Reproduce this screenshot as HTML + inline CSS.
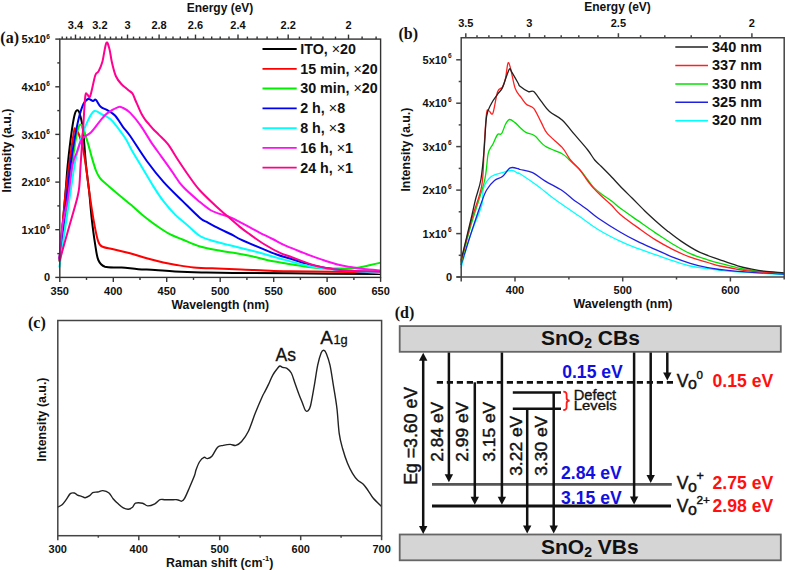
<!DOCTYPE html>
<html><head><meta charset="utf-8"><style>html,body{margin:0;padding:0;background:#fff;width:785px;height:570px;overflow:hidden;position:relative}</style></head><body>
<svg width="785" height="570" viewBox="0 0 785 570" style="position:absolute;left:0;top:0">
<rect width="785" height="570" fill="#ffffff"/>
<g fill="none" stroke-width="2" stroke-linejoin="round" stroke-linecap="round">
<path stroke="#000000" d="M59.5,260.0 C60.5,249.2 63.9,210.8 65.3,195.0 C66.7,179.2 66.6,175.8 67.7,165.0 C68.8,154.2 70.7,138.3 71.9,129.9 C73.1,121.5 73.8,117.8 74.7,114.5 C75.6,111.2 76.5,110.1 77.5,110.3 C78.5,110.5 79.5,112.4 80.4,115.9 C81.4,119.4 82.3,123.1 83.2,131.3 C84.1,139.5 85.0,155.2 86.0,165.0 C87.0,174.8 88.0,181.1 89.0,190.0 C90.0,198.9 90.7,209.4 91.7,218.3 C92.7,227.2 93.9,236.4 95.0,243.3 C96.1,250.2 96.6,256.1 98.3,260.0 C100.0,263.9 101.1,265.4 105.0,266.7 C108.9,267.9 116.2,267.1 121.7,267.5 C127.2,267.9 132.8,268.8 138.3,269.2 C143.9,269.6 148.9,269.6 155.0,270.0 C161.1,270.4 167.2,271.1 175.0,271.5 C182.8,271.9 191.9,272.2 201.6,272.4 C211.3,272.6 218.5,272.8 233.2,272.9 C247.9,273.0 265.6,273.1 290.0,273.3 C314.4,273.5 364.8,274.0 379.7,274.1"/>
<path stroke="#ff0000" d="M59.5,259.0 C60.5,248.3 63.7,210.7 65.3,195.0 C66.9,179.3 67.6,175.6 69.1,165.0 C70.5,154.4 73.0,137.2 74.0,131.3 C75.0,125.5 74.7,129.7 75.4,129.9 C76.1,130.1 77.2,130.8 78.2,132.7 C79.2,134.6 80.2,138.1 81.1,141.1 C82.0,144.1 82.5,145.5 83.4,150.5 C84.3,155.5 85.7,164.4 86.6,171.0 C87.5,177.6 87.9,182.1 89.0,190.0 C90.1,197.9 91.8,209.7 93.3,218.3 C94.8,226.9 96.6,236.9 98.3,241.7 C100.0,246.5 100.8,245.8 103.3,247.0 C105.8,248.2 108.8,248.1 113.3,249.2 C117.8,250.2 124.4,251.8 130.0,253.3 C135.6,254.8 141.1,256.8 146.7,258.3 C152.2,259.8 158.6,261.4 163.3,262.5 C168.0,263.6 169.9,263.9 175.0,264.7 C180.1,265.5 186.6,266.8 193.7,267.4 C200.8,268.0 209.5,268.2 217.4,268.5 C225.3,268.8 233.1,269.1 241.0,269.4 C248.9,269.7 256.5,270.2 264.7,270.5 C272.9,270.8 270.8,271.0 290.0,271.3 C309.2,271.6 364.8,272.2 379.7,272.4"/>
<path stroke="#00f000" d="M59.5,261.0 C60.6,253.3 63.9,231.0 66.0,215.0 C68.1,199.0 70.3,177.8 72.0,165.0 C73.7,152.2 74.7,144.7 76.0,138.0 C77.3,131.3 78.4,126.6 79.6,125.0 C80.8,123.4 81.8,125.3 83.2,128.5 C84.6,131.7 86.6,138.9 88.1,143.9 C89.6,148.9 90.8,153.9 92.1,158.4 C93.4,162.9 94.8,167.7 96.1,171.0 C97.4,174.3 98.5,176.0 100.0,178.1 C101.5,180.2 103.5,181.7 105.3,183.3 C107.0,184.9 108.2,185.7 110.5,187.7 C112.8,189.7 115.8,192.3 119.3,195.2 C122.8,198.1 127.8,202.1 131.6,205.3 C135.4,208.6 138.0,211.3 142.1,214.7 C146.2,218.0 151.7,222.3 156.1,225.4 C160.5,228.5 164.0,231.0 168.4,233.3 C172.8,235.7 177.2,237.3 182.5,239.5 C187.8,241.7 193.7,244.6 200.0,246.5 C206.3,248.4 214.4,249.7 220.5,250.8 C226.6,251.9 231.0,252.3 236.3,253.2 C241.6,254.1 246.8,255.1 252.1,256.3 C257.4,257.5 262.4,259.2 267.9,260.3 C273.4,261.4 278.9,262.2 285.0,263.2 C291.1,264.2 298.1,265.5 304.7,266.4 C311.3,267.3 317.9,268.1 324.5,268.4 C331.1,268.7 338.7,268.5 344.2,268.4 C349.7,268.3 353.0,268.4 357.4,267.8 C361.8,267.2 366.8,265.9 370.5,265.1 C374.2,264.3 378.2,263.3 379.7,262.9"/>
<path stroke="#0000f0" d="M59.5,258.0 C60.9,246.7 65.8,205.5 67.6,190.0 C69.4,174.5 69.0,175.5 70.5,165.0 C72.0,154.5 74.8,136.9 76.8,127.1 C78.8,117.3 80.6,110.8 82.5,106.1 C84.4,101.4 86.3,99.8 88.1,99.0 C89.8,98.2 91.7,101.0 93.0,101.1 C94.3,101.2 94.5,98.8 95.8,99.7 C97.1,100.7 98.7,105.0 100.7,106.8 C102.7,108.6 105.3,108.8 107.7,110.3 C110.1,111.8 112.5,112.8 115.0,115.5 C117.5,118.2 120.4,123.4 122.9,126.8 C125.4,130.2 126.0,130.1 130.0,135.8 C134.0,141.5 141.2,153.3 146.8,161.0 C152.4,168.7 157.7,175.4 163.7,182.1 C169.7,188.8 176.5,195.1 182.6,201.1 C188.7,207.1 195.8,214.3 200.0,217.9 C204.2,221.5 204.6,220.8 207.9,222.6 C211.2,224.4 215.8,226.9 219.7,228.9 C223.6,230.9 228.0,232.7 231.6,234.5 C235.2,236.3 236.0,237.3 241.0,239.6 C246.0,241.9 255.5,245.9 261.6,248.4 C267.7,250.9 272.7,253.0 277.4,254.7 C282.1,256.4 285.4,257.1 290.0,258.5 C294.6,259.9 298.9,261.6 304.7,263.2 C310.4,264.8 317.9,266.6 324.5,267.8 C331.1,269.0 335.0,269.7 344.2,270.4 C353.4,271.1 373.8,271.8 379.7,272.1"/>
<path stroke="#00ffff" d="M59.5,266.7 C61.4,253.9 68.1,207.8 70.8,190.0 C73.5,172.2 73.8,168.6 75.5,160.0 C77.2,151.4 79.0,145.0 81.1,138.3 C83.2,131.7 85.9,124.6 88.1,120.1 C90.3,115.5 92.1,111.9 94.4,111.0 C96.7,110.1 99.4,113.2 102.1,114.5 C104.8,115.8 107.6,116.7 110.3,119.0 C113.0,121.3 115.6,125.0 118.2,128.4 C120.8,131.8 123.9,135.9 126.1,139.5 C128.3,143.1 128.9,145.3 131.6,150.0 C134.3,154.7 138.6,161.7 142.1,167.5 C145.6,173.3 149.1,179.5 152.6,185.1 C156.1,190.7 159.4,195.9 163.2,200.9 C167.0,205.9 171.3,210.8 175.4,214.9 C179.5,219.0 183.6,221.9 187.7,225.4 C191.8,228.9 195.6,233.3 200.0,236.0 C204.4,238.7 209.2,239.8 214.2,241.3 C219.2,242.9 224.7,244.0 230.0,245.3 C235.3,246.6 240.5,247.9 245.8,249.2 C251.1,250.5 256.3,251.8 261.6,253.2 C266.9,254.6 273.5,256.8 277.4,257.9 C281.3,259.0 280.4,258.7 285.0,259.9 C289.6,261.1 298.1,263.7 304.7,265.1 C311.3,266.5 312.0,267.1 324.5,268.4 C337.0,269.7 370.5,272.2 379.7,273.0"/>
<path stroke="#ff10f0" d="M59.5,259.0 C60.0,253.3 61.2,234.8 62.6,225.0 C64.0,215.2 65.9,210.0 67.6,200.0 C69.2,190.0 70.9,173.0 72.5,165.0 C74.1,157.0 75.4,156.4 77.0,152.0 C78.6,147.6 79.9,141.9 82.2,138.7 C84.5,135.4 87.8,135.6 90.9,132.5 C94.0,129.4 97.9,123.5 100.6,120.3 C103.3,117.1 104.2,115.6 107.1,113.4 C110.0,111.2 115.6,108.0 118.2,107.1 C120.8,106.2 120.9,107.0 122.9,107.9 C124.9,108.8 127.1,109.7 130.0,112.6 C132.9,115.5 137.0,120.4 140.5,125.3 C144.0,130.2 147.6,136.8 151.1,142.1 C154.6,147.3 158.1,151.9 161.6,156.8 C165.1,161.7 168.6,166.7 172.1,171.6 C175.6,176.5 177.9,181.2 182.6,186.3 C187.2,191.4 195.4,198.2 200.0,202.1 C204.6,206.0 207.0,208.0 210.3,210.0 C213.6,212.0 216.8,212.8 219.7,213.9 C222.6,215.0 224.3,215.0 227.6,216.3 C230.9,217.6 235.6,219.8 239.5,221.8 C243.4,223.8 247.9,226.2 251.3,228.1 C254.7,229.9 256.4,231.1 260.0,232.9 C263.6,234.7 268.4,236.9 272.6,239.0 C276.8,241.1 280.7,243.5 285.0,245.4 C289.3,247.3 293.8,248.9 298.2,250.7 C302.6,252.4 306.9,254.3 311.3,255.9 C315.7,257.5 320.1,259.1 324.5,260.5 C328.9,261.9 333.2,263.4 337.6,264.5 C342.0,265.6 346.4,266.3 350.8,267.1 C355.2,267.9 359.2,268.6 364.0,269.1 C368.8,269.7 377.1,270.2 379.7,270.4"/>
<path stroke="#ff0090" d="M59.5,261.0 C61.0,255.7 65.5,239.7 68.5,229.0 C71.5,218.3 75.7,204.5 77.5,197.0 C79.3,189.5 79.0,189.3 79.5,184.0 C80.0,178.7 80.0,174.5 80.6,165.0 C81.2,155.5 82.4,138.6 83.2,127.1 C84.0,115.6 84.6,101.6 85.3,96.2 C86.0,90.8 86.6,94.5 87.4,94.5 C88.2,94.5 88.9,99.4 90.2,96.2 C91.5,93.0 93.9,79.4 95.3,75.3 C96.7,71.2 97.2,73.8 98.4,71.6 C99.6,69.3 101.1,66.6 102.4,61.8 C103.7,57.0 105.1,45.0 106.3,42.9 C107.5,40.8 108.6,46.1 109.5,49.2 C110.4,52.4 110.8,57.3 111.8,61.8 C112.8,66.3 114.2,72.3 115.8,76.0 C117.4,79.7 119.3,81.8 121.3,84.0 C123.3,86.2 125.8,87.9 127.6,89.5 C129.4,91.1 131.1,91.7 132.4,93.4 C133.7,95.2 134.4,97.8 135.3,100.0 C136.2,102.2 137.1,104.0 138.1,106.3 C139.1,108.6 140.4,111.8 141.6,114.0 C142.8,116.2 143.8,117.8 145.1,119.6 C146.4,121.4 147.9,122.9 149.3,124.6 C150.7,126.2 151.8,127.8 153.5,129.5 C155.2,131.2 156.8,132.7 159.2,135.1 C161.6,137.5 164.7,140.0 167.9,144.2 C171.1,148.4 174.9,155.2 178.4,160.5 C181.9,165.8 185.4,171.1 188.9,176.0 C192.4,180.9 195.0,185.0 199.5,190.0 C204.0,195.0 211.1,201.6 215.8,206.0 C220.5,210.4 223.7,212.9 227.6,216.3 C231.5,219.7 235.9,223.7 239.5,226.6 C243.1,229.5 244.8,230.8 249.0,233.8 C253.2,236.8 259.4,241.3 264.7,244.5 C269.9,247.7 276.3,251.2 280.5,253.2 C284.7,255.2 284.9,254.6 290.0,256.5 C295.1,258.4 305.6,262.6 311.3,264.5 C317.1,266.4 319.0,266.8 324.5,267.8 C330.0,268.8 335.0,269.8 344.2,270.4 C353.4,271.0 373.8,271.5 379.7,271.7"/>
</g>
<g stroke="#333" stroke-width="1.4" fill="none">
<rect x="59.8" y="39.1" width="320.8" height="238.29999999999998"/>
<line x1="59.8" y1="277.4" x2="59.8" y2="281.9"/>
<line x1="86.5" y1="277.4" x2="86.5" y2="279.9"/>
<line x1="113.3" y1="277.4" x2="113.3" y2="281.9"/>
<line x1="140.0" y1="277.4" x2="140.0" y2="279.9"/>
<line x1="166.7" y1="277.4" x2="166.7" y2="281.9"/>
<line x1="193.5" y1="277.4" x2="193.5" y2="279.9"/>
<line x1="220.2" y1="277.4" x2="220.2" y2="281.9"/>
<line x1="246.9" y1="277.4" x2="246.9" y2="279.9"/>
<line x1="273.7" y1="277.4" x2="273.7" y2="281.9"/>
<line x1="300.4" y1="277.4" x2="300.4" y2="279.9"/>
<line x1="327.1" y1="277.4" x2="327.1" y2="281.9"/>
<line x1="353.9" y1="277.4" x2="353.9" y2="279.9"/>
<line x1="380.6" y1="277.4" x2="380.6" y2="281.9"/>
<line x1="59.8" y1="277.4" x2="55.3" y2="277.4"/>
<line x1="59.8" y1="253.6" x2="57.3" y2="253.6"/>
<line x1="59.8" y1="229.7" x2="55.3" y2="229.7"/>
<line x1="59.8" y1="205.9" x2="57.3" y2="205.9"/>
<line x1="59.8" y1="182.1" x2="55.3" y2="182.1"/>
<line x1="59.8" y1="158.2" x2="57.3" y2="158.2"/>
<line x1="59.8" y1="134.4" x2="55.3" y2="134.4"/>
<line x1="59.8" y1="110.6" x2="57.3" y2="110.6"/>
<line x1="59.8" y1="86.8" x2="55.3" y2="86.8"/>
<line x1="59.8" y1="62.9" x2="57.3" y2="62.9"/>
<line x1="59.8" y1="39.1" x2="55.3" y2="39.1"/>
<line x1="62.2" y1="39.1" x2="62.2" y2="36.6"/>
<line x1="66.6" y1="39.1" x2="66.6" y2="36.6"/>
<line x1="71.0" y1="39.1" x2="71.0" y2="36.6"/>
<line x1="75.5" y1="39.1" x2="75.5" y2="34.6"/>
<line x1="80.2" y1="39.1" x2="80.2" y2="36.6"/>
<line x1="84.9" y1="39.1" x2="84.9" y2="36.6"/>
<line x1="89.8" y1="39.1" x2="89.8" y2="36.6"/>
<line x1="94.8" y1="39.1" x2="94.8" y2="36.6"/>
<line x1="99.9" y1="39.1" x2="99.9" y2="34.6"/>
<line x1="105.1" y1="39.1" x2="105.1" y2="36.6"/>
<line x1="110.5" y1="39.1" x2="110.5" y2="36.6"/>
<line x1="116.0" y1="39.1" x2="116.0" y2="36.6"/>
<line x1="121.7" y1="39.1" x2="121.7" y2="36.6"/>
<line x1="127.5" y1="39.1" x2="127.5" y2="34.6"/>
<line x1="133.5" y1="39.1" x2="133.5" y2="36.6"/>
<line x1="139.6" y1="39.1" x2="139.6" y2="36.6"/>
<line x1="145.9" y1="39.1" x2="145.9" y2="36.6"/>
<line x1="152.4" y1="39.1" x2="152.4" y2="36.6"/>
<line x1="159.1" y1="39.1" x2="159.1" y2="34.6"/>
<line x1="166.0" y1="39.1" x2="166.0" y2="36.6"/>
<line x1="173.0" y1="39.1" x2="173.0" y2="36.6"/>
<line x1="180.3" y1="39.1" x2="180.3" y2="36.6"/>
<line x1="187.8" y1="39.1" x2="187.8" y2="36.6"/>
<line x1="195.5" y1="39.1" x2="195.5" y2="34.6"/>
<line x1="203.5" y1="39.1" x2="203.5" y2="36.6"/>
<line x1="211.7" y1="39.1" x2="211.7" y2="36.6"/>
<line x1="220.2" y1="39.1" x2="220.2" y2="36.6"/>
<line x1="229.0" y1="39.1" x2="229.0" y2="36.6"/>
<line x1="238.0" y1="39.1" x2="238.0" y2="34.6"/>
<line x1="247.4" y1="39.1" x2="247.4" y2="36.6"/>
<line x1="257.1" y1="39.1" x2="257.1" y2="36.6"/>
<line x1="267.1" y1="39.1" x2="267.1" y2="36.6"/>
<line x1="277.5" y1="39.1" x2="277.5" y2="36.6"/>
<line x1="288.2" y1="39.1" x2="288.2" y2="34.6"/>
<line x1="299.4" y1="39.1" x2="299.4" y2="36.6"/>
<line x1="311.0" y1="39.1" x2="311.0" y2="36.6"/>
<line x1="323.0" y1="39.1" x2="323.0" y2="36.6"/>
<line x1="335.5" y1="39.1" x2="335.5" y2="36.6"/>
<line x1="348.5" y1="39.1" x2="348.5" y2="34.6"/>
<line x1="362.1" y1="39.1" x2="362.1" y2="36.6"/>
<line x1="376.1" y1="39.1" x2="376.1" y2="36.6"/>
</g>
<g font-family="Liberation Sans, sans-serif" font-weight="bold" font-size="11" fill="#111" text-anchor="middle">
<text x="59.8" y="294.5">350</text>
<text x="113.3" y="294.5">400</text>
<text x="166.7" y="294.5">450</text>
<text x="220.2" y="294.5">500</text>
<text x="273.7" y="294.5">550</text>
<text x="327.1" y="294.5">600</text>
<text x="380.6" y="294.5">650</text>
<text x="75.5" y="28.5">3.4</text>
<text x="99.9" y="28.5">3.2</text>
<text x="127.5" y="28.5">3</text>
<text x="159.1" y="28.5">2.8</text>
<text x="195.5" y="28.5">2.6</text>
<text x="238.0" y="28.5">2.4</text>
<text x="288.2" y="28.5">2.2</text>
<text x="348.5" y="28.5">2</text>
</g>
<g font-family="Liberation Sans, sans-serif" font-weight="bold" font-size="11" fill="#111" text-anchor="end">
<text x="50" y="281.4">0</text>
<text x="46" y="233.9">1x10</text><text x="46.2" y="229.1" font-size="6.5" text-anchor="start">6</text>
<text x="46" y="186.3">2x10</text><text x="46.2" y="181.5" font-size="6.5" text-anchor="start">6</text>
<text x="46" y="138.6">3x10</text><text x="46.2" y="133.8" font-size="6.5" text-anchor="start">6</text>
<text x="46" y="91.0">4x10</text><text x="46.2" y="86.2" font-size="6.5" text-anchor="start">6</text>
<text x="46" y="43.3">5x10</text><text x="46.2" y="38.5" font-size="6.5" text-anchor="start">6</text>
</g>
<text font-family="Liberation Sans, sans-serif" font-weight="bold" font-size="12" x="220" y="12.2" text-anchor="middle" fill="#111">Energy (eV)</text>
<text font-family="Liberation Sans, sans-serif" font-weight="bold" font-size="12.2" x="220.3" y="308.7" text-anchor="middle" fill="#111">Wavelength (nm)</text>
<text font-family="Liberation Sans, sans-serif" font-weight="bold" font-size="12.4" transform="translate(11.2,150.5) rotate(-90)" text-anchor="middle" fill="#111">Intensity (a.u.)</text>
<text font-family="Liberation Serif, serif" font-weight="bold" font-size="16" x="0.3" y="42.8" fill="#111">(a)</text>
<line x1="262.5" y1="49.0" x2="296.7" y2="49.0" stroke="#000000" stroke-width="1.8"/>
<text font-family="Liberation Sans, sans-serif" font-weight="bold" font-size="14.3" x="300.2" y="53.9" fill="#111">ITO, <tspan font-weight="normal">×</tspan>20</text>
<line x1="262.5" y1="68.8" x2="296.7" y2="68.8" stroke="#ff0000" stroke-width="1.8"/>
<text font-family="Liberation Sans, sans-serif" font-weight="bold" font-size="14.3" x="300.2" y="73.7" fill="#111">15 min, <tspan font-weight="normal">×</tspan>20</text>
<line x1="262.5" y1="88.5" x2="296.7" y2="88.5" stroke="#00f000" stroke-width="1.8"/>
<text font-family="Liberation Sans, sans-serif" font-weight="bold" font-size="14.3" x="300.2" y="93.4" fill="#111">30 min, <tspan font-weight="normal">×</tspan>20</text>
<line x1="262.5" y1="108.3" x2="296.7" y2="108.3" stroke="#0000f0" stroke-width="1.8"/>
<text font-family="Liberation Sans, sans-serif" font-weight="bold" font-size="14.3" x="300.2" y="113.2" fill="#111">2 h, <tspan font-weight="normal">×</tspan>8</text>
<line x1="262.5" y1="128.1" x2="296.7" y2="128.1" stroke="#00ffff" stroke-width="1.8"/>
<text font-family="Liberation Sans, sans-serif" font-weight="bold" font-size="14.3" x="300.2" y="133.0" fill="#111">8 h, <tspan font-weight="normal">×</tspan>3</text>
<line x1="262.5" y1="147.8" x2="296.7" y2="147.8" stroke="#ff10f0" stroke-width="1.8"/>
<text font-family="Liberation Sans, sans-serif" font-weight="bold" font-size="14.3" x="300.2" y="152.8" fill="#111">16 h, <tspan font-weight="normal">×</tspan>1</text>
<line x1="262.5" y1="167.6" x2="296.7" y2="167.6" stroke="#ff0090" stroke-width="1.8"/>
<text font-family="Liberation Sans, sans-serif" font-weight="bold" font-size="14.3" x="300.2" y="172.5" fill="#111">24 h, <tspan font-weight="normal">×</tspan>1</text>
<g fill="none" stroke-width="1.3" stroke-linejoin="round" stroke-linecap="round">
<path stroke="#00ffff" d="M461.1,267.7 C462.6,262.3 466.9,246.0 470.3,235.6 C473.8,225.2 479.6,212.9 481.8,205.0 C484.0,197.1 481.8,193.1 483.4,188.4 C485.0,183.7 488.1,179.2 491.3,176.6 C494.5,174.0 499.0,173.6 502.4,172.6 C505.8,171.6 509.2,170.2 511.8,170.3 C514.4,170.4 516.8,172.8 518.2,173.4 C519.6,174.0 516.9,171.7 520.0,173.7 C523.1,175.7 530.8,180.9 536.8,185.3 C542.8,189.7 548.6,194.8 555.8,200.0 C563.0,205.2 572.8,211.8 580.0,216.8 C587.2,221.8 592.2,225.9 598.9,230.0 C605.6,234.1 613.6,238.1 620.0,241.2 C626.4,244.3 631.6,246.2 637.5,248.4 C643.4,250.6 649.2,252.6 655.1,254.6 C661.0,256.6 666.8,258.8 672.6,260.7 C678.5,262.6 684.4,264.7 690.2,266.0 C696.1,267.3 702.7,267.9 707.7,268.6 C712.7,269.3 715.0,269.9 720.0,270.4 C725.0,270.9 727.0,271.1 737.6,271.8 C748.2,272.5 776.0,274.2 783.7,274.7"/>
<path stroke="#2020e0" d="M461.1,264.6 C462.6,259.8 467.1,245.4 470.3,235.6 C473.5,225.8 477.6,213.4 480.3,205.8 C483.0,198.2 484.2,194.2 486.6,190.0 C489.0,185.8 491.9,182.7 494.5,180.5 C497.1,178.3 499.8,178.7 502.4,176.6 C505.0,174.5 507.7,169.2 510.3,167.9 C512.9,166.6 516.6,168.4 518.2,168.7 C519.8,169.0 517.6,168.8 520.0,169.5 C522.4,170.2 528.4,170.7 532.6,172.6 C536.8,174.5 540.4,178.1 545.3,181.1 C550.2,184.1 557.4,187.3 562.1,190.5 C566.8,193.7 570.7,197.7 573.7,200.0 C576.7,202.3 577.5,202.4 580.0,204.2 C582.5,205.9 585.4,208.2 588.4,210.5 C591.4,212.8 592.6,214.4 597.9,218.0 C603.2,221.6 613.4,228.1 620.0,232.0 C626.6,235.9 631.6,238.5 637.5,241.4 C643.4,244.3 649.2,246.7 655.1,249.3 C661.0,251.9 666.8,254.9 672.6,257.2 C678.5,259.5 684.4,261.6 690.2,263.3 C696.1,265.1 702.7,266.7 707.7,267.7 C712.7,268.7 715.0,268.9 720.0,269.5 C725.0,270.1 727.0,270.6 737.6,271.4 C748.2,272.2 776.0,273.7 783.7,274.1"/>
<path stroke="#00e000" d="M461.1,263.0 C462.8,256.7 467.1,238.5 471.0,225.0 C474.9,211.5 481.3,194.0 484.2,182.1 C487.1,170.2 486.8,160.0 488.2,153.7 C489.6,147.4 491.3,147.4 492.9,144.2 C494.5,141.0 496.2,136.2 497.6,134.5 C499.1,132.8 500.3,135.4 501.6,133.7 C502.9,132.0 504.2,126.6 505.5,124.2 C506.8,121.8 507.9,119.8 509.5,119.5 C511.1,119.2 513.2,121.3 515.0,122.6 C516.8,123.9 518.1,125.7 520.0,127.4 C521.9,129.1 523.8,131.2 526.3,132.6 C528.8,134.0 531.5,133.5 534.7,135.8 C537.9,138.1 540.7,143.3 545.3,146.3 C549.9,149.3 558.0,151.3 562.1,153.7 C566.2,156.1 567.0,157.9 570.0,160.6 C573.0,163.3 577.3,167.1 580.0,170.0 C582.7,172.9 584.0,175.0 586.3,177.9 C588.6,180.8 591.2,184.8 593.7,187.4 C596.2,190.0 598.1,191.4 601.1,193.7 C604.1,196.0 608.5,198.7 611.6,201.1 C614.8,203.5 615.7,204.9 620.0,208.1 C624.3,211.3 631.6,216.3 637.5,220.4 C643.4,224.5 649.2,228.7 655.1,232.6 C661.0,236.5 666.8,240.5 672.6,244.0 C678.5,247.5 684.4,251.1 690.2,253.7 C696.1,256.3 702.7,258.2 707.7,259.8 C712.7,261.4 715.0,262.0 720.0,263.3 C725.0,264.6 732.5,266.6 737.6,267.8 C742.7,269.0 743.1,269.4 750.8,270.3 C758.5,271.2 778.2,272.7 783.7,273.2"/>
<path stroke="#ff2020" d="M461.1,261.5 C462.8,254.6 468.1,232.7 471.5,220.0 C474.9,207.3 479.7,197.7 481.8,185.3 C483.9,172.9 483.4,157.8 484.2,145.8 C485.0,133.8 485.8,119.0 486.6,113.2 C487.4,107.4 487.9,110.8 489.0,110.8 C490.1,110.8 491.5,116.4 492.9,113.2 C494.3,110.0 496.0,96.2 497.6,91.8 C499.2,87.4 501.1,89.3 502.4,87.1 C503.7,84.9 504.6,82.4 505.5,78.4 C506.4,74.5 507.1,65.2 507.9,63.4 C508.7,61.6 509.1,63.3 510.3,67.4 C511.5,71.5 513.4,83.2 515.0,87.9 C516.6,92.6 518.9,94.5 519.7,95.8 C520.5,97.1 518.9,94.4 520.0,95.8 C521.1,97.2 524.0,102.1 526.3,104.2 C528.6,106.3 531.2,105.4 533.7,108.4 C536.2,111.4 538.8,117.9 541.1,122.1 C543.4,126.3 543.9,129.5 547.4,133.7 C550.9,137.9 558.2,143.0 562.1,147.4 C566.0,151.8 567.5,156.2 570.5,160.0 C573.5,163.8 577.4,166.8 580.0,170.0 C582.6,173.2 584.0,175.9 586.3,179.0 C588.6,182.1 591.2,185.6 593.7,188.4 C596.2,191.2 598.1,193.0 601.1,195.8 C604.1,198.6 608.5,202.2 611.6,205.3 C614.8,208.4 615.7,210.5 620.0,214.2 C624.3,217.9 631.6,223.2 637.5,227.4 C643.4,231.6 649.2,235.9 655.1,239.6 C661.0,243.2 666.8,246.4 672.6,249.3 C678.5,252.2 684.4,255.0 690.2,257.2 C696.1,259.4 702.7,261.0 707.7,262.5 C712.7,264.0 715.0,264.9 720.0,266.0 C725.0,267.1 732.5,268.4 737.6,269.3 C742.7,270.2 743.1,270.5 750.8,271.2 C758.5,271.9 778.2,273.0 783.7,273.4"/>
<path stroke="#222222" d="M461.1,260.0 C462.7,253.3 468.4,230.1 470.8,220.0 C473.2,209.9 473.8,206.3 475.5,199.5 C477.2,192.7 479.6,187.4 481.0,179.0 C482.4,170.6 483.3,159.4 484.2,149.0 C485.1,138.6 485.4,123.8 486.6,116.3 C487.8,108.8 489.5,107.4 491.3,103.7 C493.1,100.0 495.8,96.8 497.6,94.2 C499.5,91.6 500.9,90.8 502.4,87.9 C503.8,85.0 505.1,80.0 506.3,76.8 C507.5,73.6 508.6,69.7 509.5,68.9 C510.4,68.1 510.4,69.7 511.8,72.1 C513.2,74.5 516.8,80.8 518.2,83.2 C519.6,85.6 518.3,84.9 520.0,86.3 C521.7,87.7 526.1,90.7 528.4,91.6 C530.7,92.5 531.6,90.0 533.7,91.6 C535.8,93.2 538.5,97.8 541.1,101.1 C543.7,104.4 546.0,108.4 549.5,111.6 C553.0,114.8 557.9,116.2 562.1,120.0 C566.3,123.8 570.5,129.8 574.7,134.7 C578.9,139.6 584.1,145.3 587.4,149.5 C590.7,153.7 592.4,157.2 594.7,160.0 C597.0,162.8 598.3,163.5 601.1,166.3 C603.9,169.1 608.5,173.7 611.6,177.0 C614.8,180.3 616.5,182.4 620.0,186.0 C623.5,189.6 628.2,194.2 632.3,198.3 C636.4,202.4 640.8,207.0 644.6,210.7 C648.4,214.4 651.3,217.0 655.1,220.4 C658.9,223.8 663.0,227.4 667.4,230.9 C671.8,234.4 676.1,237.9 681.4,241.4 C686.6,244.9 692.5,248.8 698.9,251.9 C705.3,255.0 713.5,257.5 720.0,259.8 C726.5,262.1 732.5,264.3 737.6,265.8 C742.7,267.3 746.4,268.1 750.8,269.0 C755.2,269.9 758.4,270.6 763.9,271.2 C769.4,271.8 780.4,272.5 783.7,272.8"/>
</g>
<g stroke="#444" stroke-width="1.5" fill="none">
<polyline points="461.2,277.0 461.2,37.7 784.2,37.7 784.2,277.0"/>
<line x1="456.7" y1="277.0" x2="784.2" y2="277.0"/>
<line x1="461.2" y1="277.0" x2="461.2" y2="281.5"/>
<line x1="515.0" y1="277.0" x2="515.0" y2="281.5"/>
<line x1="568.9" y1="277.0" x2="568.9" y2="279.5"/>
<line x1="622.7" y1="277.0" x2="622.7" y2="281.5"/>
<line x1="676.5" y1="277.0" x2="676.5" y2="279.5"/>
<line x1="730.4" y1="277.0" x2="730.4" y2="281.5"/>
<line x1="784.2" y1="277.0" x2="784.2" y2="279.5"/>
<line x1="461.2" y1="277.0" x2="456.2" y2="277.0"/>
<line x1="461.2" y1="255.3" x2="458.7" y2="255.3"/>
<line x1="461.2" y1="233.6" x2="456.2" y2="233.6"/>
<line x1="461.2" y1="211.8" x2="458.7" y2="211.8"/>
<line x1="461.2" y1="190.1" x2="456.2" y2="190.1"/>
<line x1="461.2" y1="168.4" x2="458.7" y2="168.4"/>
<line x1="461.2" y1="146.6" x2="456.2" y2="146.6"/>
<line x1="461.2" y1="124.9" x2="458.7" y2="124.9"/>
<line x1="461.2" y1="103.2" x2="456.2" y2="103.2"/>
<line x1="461.2" y1="81.5" x2="458.7" y2="81.5"/>
<line x1="461.2" y1="59.8" x2="456.2" y2="59.8"/>
<line x1="465.8" y1="37.7" x2="465.8" y2="33.2"/>
<line x1="477.0" y1="37.7" x2="477.0" y2="35.2"/>
<line x1="488.9" y1="37.7" x2="488.9" y2="35.2"/>
<line x1="501.6" y1="37.7" x2="501.6" y2="35.2"/>
<line x1="515.0" y1="37.7" x2="515.0" y2="35.2"/>
<line x1="529.4" y1="37.7" x2="529.4" y2="33.2"/>
<line x1="544.7" y1="37.7" x2="544.7" y2="35.2"/>
<line x1="561.2" y1="37.7" x2="561.2" y2="35.2"/>
<line x1="578.8" y1="37.7" x2="578.8" y2="35.2"/>
<line x1="597.9" y1="37.7" x2="597.9" y2="35.2"/>
<line x1="618.4" y1="37.7" x2="618.4" y2="33.2"/>
<line x1="640.6" y1="37.7" x2="640.6" y2="35.2"/>
<line x1="664.8" y1="37.7" x2="664.8" y2="35.2"/>
<line x1="691.2" y1="37.7" x2="691.2" y2="35.2"/>
<line x1="720.1" y1="37.7" x2="720.1" y2="35.2"/>
<line x1="751.9" y1="37.7" x2="751.9" y2="33.2"/>
</g>
<g font-family="Liberation Sans, sans-serif" font-weight="bold" font-size="11" fill="#111" text-anchor="middle">
<text x="515.0" y="294">400</text>
<text x="622.7" y="294">500</text>
<text x="730.4" y="294">600</text>
<text x="465.8" y="26.8">3.5</text>
<text x="529.4" y="26.8">3</text>
<text x="618.4" y="26.8">2.5</text>
<text x="751.9" y="26.8">2</text>
</g>
<g font-family="Liberation Sans, sans-serif" font-weight="bold" font-size="11" fill="#111" text-anchor="end">
<text x="452" y="281.0">0</text>
<text x="447" y="237.7">1x10</text><text x="448" y="232.2" font-size="6.5" text-anchor="start">6</text>
<text x="447" y="194.2">2x10</text><text x="448" y="188.7" font-size="6.5" text-anchor="start">6</text>
<text x="447" y="150.7">3x10</text><text x="448" y="145.2" font-size="6.5" text-anchor="start">6</text>
<text x="447" y="107.3">4x10</text><text x="448" y="101.8" font-size="6.5" text-anchor="start">6</text>
<text x="447" y="63.9">5x10</text><text x="448" y="58.4" font-size="6.5" text-anchor="start">6</text>
</g>
<text font-family="Liberation Sans, sans-serif" font-weight="bold" font-size="12" x="617.5" y="11.2" text-anchor="middle" fill="#111">Energy (eV)</text>
<text font-family="Liberation Sans, sans-serif" font-weight="bold" font-size="12.35" x="623" y="308.3" text-anchor="middle" fill="#111">Wavelength (nm)</text>
<text font-family="Liberation Sans, sans-serif" font-weight="bold" font-size="12.4" transform="translate(410.2,149.6) rotate(-90)" text-anchor="middle" fill="#111">Intensity (a.u.)</text>
<text font-family="Liberation Serif, serif" font-weight="bold" font-size="16" x="398.5" y="38.8" fill="#111">(b)</text>
<line x1="675.3" y1="47.0" x2="708" y2="47.0" stroke="#222222" stroke-width="1.5"/>
<text font-family="Liberation Sans, sans-serif" font-weight="bold" font-size="14.5" x="712" y="51.6" fill="#111">340 nm</text>
<line x1="675.3" y1="65.5" x2="708" y2="65.5" stroke="#ff2020" stroke-width="1.5"/>
<text font-family="Liberation Sans, sans-serif" font-weight="bold" font-size="14.5" x="712" y="70.0" fill="#111">337 nm</text>
<line x1="675.3" y1="83.9" x2="708" y2="83.9" stroke="#00e000" stroke-width="1.5"/>
<text font-family="Liberation Sans, sans-serif" font-weight="bold" font-size="14.5" x="712" y="88.5" fill="#111">330 nm</text>
<line x1="675.3" y1="102.3" x2="708" y2="102.3" stroke="#2020e0" stroke-width="1.5"/>
<text font-family="Liberation Sans, sans-serif" font-weight="bold" font-size="14.5" x="712" y="106.9" fill="#111">325 nm</text>
<line x1="675.3" y1="120.8" x2="708" y2="120.8" stroke="#00ffff" stroke-width="1.5"/>
<text font-family="Liberation Sans, sans-serif" font-weight="bold" font-size="14.5" x="712" y="125.4" fill="#111">320 nm</text>
<path fill="none" stroke="#222" stroke-width="1.4" stroke-linejoin="round" d="M57.4,507.3 C58.2,506.9 60.6,506.1 62.1,504.8 C63.6,503.5 64.8,501.6 66.2,499.7 C67.6,497.8 68.9,494.7 70.3,493.6 C71.7,492.5 73.2,492.8 74.4,493.0 C75.6,493.2 76.2,494.6 77.4,495.1 C78.6,495.7 80.2,495.9 81.5,496.3 C82.8,496.7 83.8,497.8 85.2,497.7 C86.6,497.6 88.5,496.5 89.7,495.7 C91.0,494.9 91.4,493.2 92.7,492.6 C94.0,492.0 96.1,492.3 97.8,492.0 C99.5,491.7 101.0,490.4 102.9,490.6 C104.8,490.8 107.3,491.6 109.0,493.0 C110.7,494.4 111.6,496.9 113.1,498.7 C114.6,500.5 116.5,502.3 118.2,503.8 C119.9,505.3 121.6,507.0 123.3,507.9 C125.0,508.8 126.9,509.4 128.4,509.3 C129.9,509.2 131.3,508.3 132.5,507.3 C133.7,506.3 133.8,503.9 135.5,503.2 C137.2,502.5 140.6,502.8 142.6,503.2 C144.6,503.6 145.6,505.8 147.7,505.9 C149.8,506.0 152.8,504.8 154.9,503.8 C157.0,502.8 158.3,500.4 160.0,499.7 C161.7,499.0 162.9,499.7 165.1,499.7 C167.3,499.7 171.2,499.7 173.2,499.7 C175.2,499.7 175.9,499.4 177.3,499.7 C178.7,499.9 180.2,501.4 181.4,501.2 C182.6,501.0 183.1,501.0 184.4,498.7 C185.8,496.4 187.8,491.4 189.5,487.5 C191.2,483.6 193.5,478.2 194.6,475.3 C195.7,472.4 195.2,472.2 196.0,470.0 C196.8,467.8 198.1,464.1 199.4,462.0 C200.7,459.9 202.7,458.0 204.0,457.4 C205.3,456.8 206.1,458.8 207.4,458.6 C208.7,458.4 210.2,458.2 211.9,456.3 C213.6,454.4 215.7,449.0 217.6,447.2 C219.5,445.4 221.2,445.9 223.3,445.4 C225.4,444.9 228.1,444.4 230.2,444.4 C232.3,444.4 234.0,445.9 235.9,445.4 C237.8,444.9 239.5,443.9 241.6,441.5 C243.7,439.1 246.1,435.9 248.4,431.2 C250.7,426.4 253.0,418.7 255.3,413.0 C257.6,407.3 260.5,400.6 262.1,397.0 C263.7,393.4 263.9,393.5 265.0,391.4 C266.1,389.3 267.2,387.2 268.5,384.4 C269.8,381.6 271.4,377.4 272.9,374.8 C274.4,372.2 276.1,370.1 277.3,368.6 C278.5,367.1 279.0,366.2 279.9,366.0 C280.8,365.8 281.4,367.0 282.6,367.4 C283.8,367.8 285.4,367.4 286.9,368.3 C288.3,369.2 290.0,370.6 291.3,373.0 C292.6,375.4 293.5,379.0 294.8,382.7 C296.1,386.4 297.9,391.5 299.2,395.0 C300.5,398.5 301.7,401.1 302.7,403.7 C303.7,406.3 304.5,409.2 305.4,410.4 C306.3,411.6 307.1,411.6 308.0,410.8 C308.9,410.0 309.6,409.6 310.6,405.5 C311.6,401.4 313.0,392.9 314.2,386.2 C315.4,379.5 316.5,370.7 317.7,365.1 C318.9,359.5 320.2,355.3 321.2,352.8 C322.2,350.3 322.9,350.1 323.8,350.2 C324.7,350.3 325.4,351.2 326.4,353.7 C327.4,356.2 328.8,359.7 330.0,365.1 C331.2,370.5 332.3,378.9 333.5,386.2 C334.7,393.5 336.1,401.1 337.0,409.0 C337.9,416.9 338.3,426.8 339.2,433.3 C340.1,439.9 341.1,443.3 342.5,448.3 C343.9,453.3 345.8,459.1 347.5,463.3 C349.2,467.5 350.8,470.5 352.5,473.3 C354.2,476.1 355.7,478.2 357.5,480.0 C359.3,481.8 361.5,482.4 363.3,484.2 C365.1,486.0 366.6,488.4 368.3,490.8 C370.0,493.2 371.1,495.7 373.3,498.3 C375.5,500.9 380.3,505.3 381.7,506.7"/>
<g stroke="#444" stroke-width="1.5" fill="none">
<rect x="57.8" y="320.5" width="323.8" height="215.2"/>
<line x1="57.8" y1="535.7" x2="57.8" y2="540.2"/>
<line x1="98.3" y1="535.7" x2="98.3" y2="537.7"/>
<line x1="138.8" y1="535.7" x2="138.8" y2="540.2"/>
<line x1="179.2" y1="535.7" x2="179.2" y2="537.7"/>
<line x1="219.7" y1="535.7" x2="219.7" y2="540.2"/>
<line x1="260.2" y1="535.7" x2="260.2" y2="537.7"/>
<line x1="300.7" y1="535.7" x2="300.7" y2="540.2"/>
<line x1="341.1" y1="535.7" x2="341.1" y2="537.7"/>
<line x1="381.6" y1="535.7" x2="381.6" y2="540.2"/>
</g>
<g font-family="Liberation Sans, sans-serif" font-weight="bold" font-size="11" fill="#111" text-anchor="middle">
<text x="57.8" y="552.5">300</text>
<text x="138.8" y="552.5">400</text>
<text x="219.7" y="552.5">500</text>
<text x="300.7" y="552.5">600</text>
<text x="381.6" y="552.5">700</text>
</g>
<text font-family="Liberation Sans, sans-serif" font-weight="bold" font-size="12.4" x="219.7" y="566.8" text-anchor="middle" fill="#111">Raman shift (cm<tspan dy="-5.5" font-size="7.5">-1</tspan><tspan dy="5.5">)</tspan></text>
<text font-family="Liberation Sans, sans-serif" font-weight="bold" font-size="12.4" transform="translate(46,419.5) rotate(-90)" text-anchor="middle" fill="#111">Intensity (a.u.)</text>
<text font-family="Liberation Serif, serif" font-weight="bold" font-size="16" x="28" y="328.1" fill="#111">(c)</text>
<text font-family="Liberation Sans, sans-serif" font-size="17.5" x="275.6" y="361.4" fill="#111" stroke="#111" stroke-width="0.3">As</text>
<text font-family="Liberation Sans, sans-serif" font-size="19" x="320.2" y="343.5" fill="#111" stroke="#111" stroke-width="0.3">A<tspan font-size="12.8" dx="0.6">1g</tspan></text>
<text font-family="Liberation Serif, serif" font-weight="bold" font-size="16" x="394.7" y="317.8" fill="#111">(d)</text>
<rect x="399.7" y="326.1" width="381.1" height="25.7" fill="#d5d5d5" stroke="#666" stroke-width="1.8"/>
<rect x="399.7" y="534.5" width="381.1" height="25.8" fill="#d5d5d5" stroke="#666" stroke-width="1.8"/>
<text font-family="Liberation Sans, sans-serif" font-weight="bold" font-size="21" x="541" y="345.2" fill="#111">SnO<tspan font-size="14" dy="3">2</tspan><tspan dy="-3"> CBs</tspan></text>
<text font-family="Liberation Sans, sans-serif" font-weight="bold" font-size="21" x="541" y="554.1" fill="#111">SnO<tspan font-size="14" dy="3">2</tspan><tspan dy="-3"> VBs</tspan></text>
<line x1="436.8" y1="382.3" x2="673" y2="382.3" stroke="#111" stroke-width="2.8" stroke-dasharray="6.2,3.8"/>
<line x1="432" y1="484.4" x2="671.8" y2="484.4" stroke="#555" stroke-width="2.8"/>
<line x1="432" y1="506" x2="671" y2="506" stroke="#111" stroke-width="2.8"/>
<line x1="512.8" y1="392.5" x2="561" y2="392.5" stroke="#111" stroke-width="2.5"/>
<line x1="512.8" y1="408.8" x2="561" y2="408.8" stroke="#111" stroke-width="2.5"/>
<line x1="423.2" y1="358" x2="423.2" y2="528" stroke="#111" stroke-width="2.5"/>
<polygon points="419.0,360.8 427.4,360.8 423.2,352.8" fill="#111"/>
<polygon points="419,525.9 427.4,525.9 423.2,533.9" fill="#111"/>
<line x1="448.9" y1="352.5" x2="448.9" y2="476.3" stroke="#111" stroke-width="2.5"/>
<polygon points="444.7,474.3 453.09999999999997,474.3 448.9,482.3" fill="#111"/>
<line x1="474.8" y1="382.3" x2="474.8" y2="498.8" stroke="#111" stroke-width="2.5"/>
<polygon points="470.6,496.8 479.0,496.8 474.8,504.8" fill="#111"/>
<line x1="501.9" y1="352.5" x2="501.9" y2="498.8" stroke="#111" stroke-width="2.5"/>
<polygon points="497.7,496.8 506.09999999999997,496.8 501.9,504.8" fill="#111"/>
<line x1="527.2" y1="408.8" x2="527.2" y2="527.5" stroke="#111" stroke-width="2.5"/>
<polygon points="523.0,525.5 531.4000000000001,525.5 527.2,533.5" fill="#111"/>
<line x1="553.7" y1="392.5" x2="553.7" y2="527.5" stroke="#111" stroke-width="2.5"/>
<polygon points="549.5,525.5 557.9000000000001,525.5 553.7,533.5" fill="#111"/>
<line x1="634.1" y1="352.5" x2="634.1" y2="498.5" stroke="#111" stroke-width="2.5"/>
<polygon points="629.9,496.5 638.3000000000001,496.5 634.1,504.5" fill="#111"/>
<line x1="650.7" y1="352.5" x2="650.7" y2="477" stroke="#111" stroke-width="2.5"/>
<polygon points="646.5,475 654.9000000000001,475 650.7,483" fill="#111"/>
<line x1="667.3" y1="352.5" x2="667.3" y2="374.6" stroke="#111" stroke-width="2.5"/>
<polygon points="663.0999999999999,372.6 671.5,372.6 667.3,380.6" fill="#111"/>
<g font-family="Liberation Sans, sans-serif" font-size="17.4" fill="#111" stroke="#111" stroke-width="0.45">
<text transform="translate(416.6,484.8) rotate(-90)" font-size="17.7">Eg =3.60 eV</text>
<text transform="translate(443.4,461.8) rotate(-90)">2.84 eV</text>
<text transform="translate(468.4,461.8) rotate(-90)">2.99 eV</text>
<text transform="translate(495,461.8) rotate(-90)">3.15 eV</text>
<text transform="translate(521.8,475.8) rotate(-90)">3.22 eV</text>
<text transform="translate(547,475.8) rotate(-90)">3.30 eV</text>
</g>
<g font-family="Liberation Sans, sans-serif" font-weight="bold" font-size="17.6" fill="#1010e0">
<text x="562.2" y="377.9">0.15 eV</text>
<text x="561" y="478.7">2.84 eV</text>
<text x="561" y="503.6">3.15 eV</text>
</g>
<g font-family="Liberation Sans, sans-serif" font-weight="bold" font-size="17.6" fill="#ff1010">
<text x="712.5" y="386.7">0.15 eV</text>
<text x="712.5" y="488.7">2.75 eV</text>
<text x="712.5" y="512.2">2.98 eV</text>
</g>
<g font-family="Liberation Sans, sans-serif" fill="#111" stroke="#111" stroke-width="0.45">
<text x="676.8" y="386.8" font-size="17.6">V</text>
<text x="688.1" y="389.2" font-size="16">o</text>
<text x="696.4" y="378.8" font-size="11.5">0</text>
<text x="676.8" y="489.1" font-size="17.6">V</text>
<text x="688.1" y="491.5" font-size="16">o</text>
<text x="696.4" y="479.6" font-size="12.5">+</text>
<text x="676.8" y="512.3" font-size="17.6">V</text>
<text x="688.1" y="514.7" font-size="16">o</text>
<text x="696.4" y="504.2" font-size="11.8">2+</text>
</g>
<g font-family="Liberation Sans, sans-serif" font-size="13.5" fill="#111" stroke="#111" stroke-width="0.35">
<text x="573.8" y="399.7" font-size="14.6" textLength="42.3" lengthAdjust="spacingAndGlyphs">Defect</text>
<text x="573.8" y="409.6" textLength="42.8" lengthAdjust="spacingAndGlyphs">Levels</text>
</g>
<path d="M563.3,391.6 Q567,391.6 566.6,395.5 L566.6,398 Q566.6,400.5 569.6,400.7 Q566.6,400.9 566.6,403.4 L566.6,406.3 Q567,410 563.3,410" fill="none" stroke="#ff1a1a" stroke-width="1.8"/>
</svg>
</body></html>
